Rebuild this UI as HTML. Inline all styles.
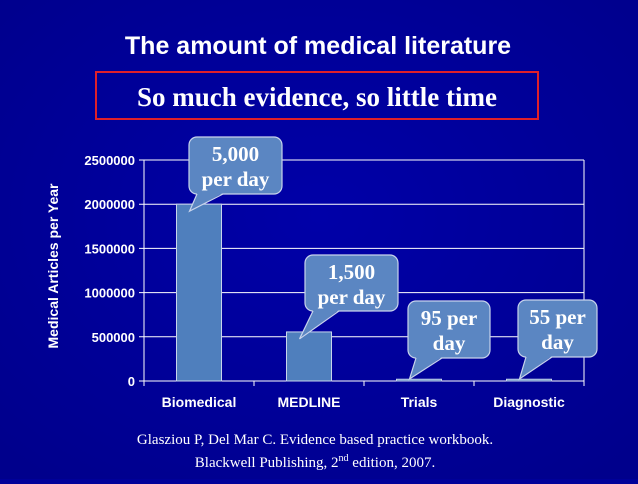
<!DOCTYPE html>
<html><head><meta charset="utf-8"><style>
body{margin:0;width:638px;height:479px;overflow:hidden;background:#000099;font-family:"Liberation Sans",sans-serif}
</style></head><body>
<svg width="638" height="479">
<defs><radialGradient id="bg" cx="50%" cy="45%" r="70%"><stop offset="0" stop-color="#0000a8"/><stop offset="1" stop-color="#00008c"/></radialGradient></defs>
<rect width="638" height="479" fill="url(#bg)"/>
<text x="318" y="54" fill="#fff" font-size="25" font-weight="bold" text-anchor="middle" font-family="Liberation Sans,sans-serif">The amount of medical literature</text>
<rect x="96" y="72" width="442" height="47" fill="none" stroke="#e0202a" stroke-width="2"/>
<text x="317" y="106" fill="#fff" font-size="27" font-weight="bold" text-anchor="middle" font-family="Liberation Serif,serif">So much evidence, so little time</text>
<g id="chart"></g>
<text transform="translate(58,266) rotate(-90)" fill="#fff" font-size="14" font-weight="bold" text-anchor="middle">Medical Articles per Year</text>
<text x="315" y="444" fill="#fff" font-size="15" text-anchor="middle" font-family="Liberation Serif,serif">Glasziou P, Del Mar C.  Evidence based practice workbook.</text>
<text x="315" y="467" fill="#fff" font-size="15" text-anchor="middle" font-family="Liberation Serif,serif">Blackwell Publishing, 2<tspan font-size="10" dy="-6">nd</tspan><tspan dy="6"> edition,  2007.</tspan></text>
</svg>
<script>
const categories=["Biomedical","MEDLINE","Trials","Diagnostic"];
const values=[2000000,555000,20000,20000];
const ticks=[0,500000,1000000,1500000,2000000,2500000];
const bubbleLines=[["5,000","per day"],["1,500","per day"],["95 per","day"],["55 per","day"]];
const NS="http://www.w3.org/2000/svg";
const g=document.getElementById("chart");
const X0=144,X1=584,Y0=381,Y1=160,MAX=2500000;
const y=v=>Y0-(v/MAX)*(Y0-Y1);
const band=(X1-X0)/categories.length;
const xc=i=>X0+band*(i+0.5);
function mk(t,a,p){const e=document.createElementNS(NS,t);for(const k in a)e.setAttribute(k,a[k]);(p||g).appendChild(e);return e;}
ticks.forEach((t,i)=>{
 const l=mk("line",{x1:X0-5,x2:X1,y1:y(t),y2:y(t),stroke:"#fff","stroke-width":1});
 
 
 const tx=mk("text",{x:X0-9,y:y(t)+5,fill:"#fff","font-size":13,"font-weight":"bold","text-anchor":"end"});
 tx.textContent=t;
 
 
});
const ax=mk("line",{x1:X0,x2:X0,y1:Y1,y2:Y0,stroke:"#fff"});


const ax2=mk("line",{x1:X1,x2:X1,y1:Y1,y2:Y0,stroke:"#fff"});


for(let i=0;i<=categories.length;i++){
 const t=mk("line",{x1:X0+band*i,x2:X0+band*i,y1:Y0,y2:Y0+5,stroke:"#fff"});
 
 
}
const bw=45;
const boxes=[[189,137,93,57],[305,255,93,56],[408,301,82,57],[518,300,79,57]];
categories.forEach((c,i)=>{
 const r=mk("rect",{x:xc(i)-bw/2,y:y(values[i]),width:bw,height:Y0-y(values[i]),fill:"#4f7fbd",stroke:"#c8d4ec","stroke-width":1});
 
 
 const tx=mk("text",{x:xc(i),y:407,fill:"#fff","font-size":14,"font-weight":"bold","text-anchor":"middle"});
 tx.textContent=c;
 
 
 const [bx,by,w,h]=boxes[i];
 const tipx=xc(i)-bw/2+13,tipy=Math.min(y(values[i])+7,Y0-2);
 const bg=mk("g",{});
 
 
 mk("rect",{x:bx,y:by,width:w,height:h,rx:8,fill:"#5b86c2",stroke:"#c8d4ec","stroke-width":1.2},bg);
 mk("polygon",{points:`${bx+8},${by+h-1} ${tipx},${tipy} ${bx+34},${by+h-1}`,fill:"#5b86c2"},bg);
 mk("polyline",{points:`${bx+8},${by+h} ${tipx},${tipy} ${bx+34},${by+h}`,fill:"none",stroke:"#c8d4ec","stroke-width":1.2},bg);
 bubbleLines[i].forEach((s,j)=>{
  const t=mk("text",{x:bx+w/2,y:by+24+j*25,fill:"#fff","font-size":21,"font-weight":"bold","text-anchor":"middle","font-family":"Liberation Serif,serif"},bg);
  t.textContent=s;
 });
});
</script>
</body></html>
